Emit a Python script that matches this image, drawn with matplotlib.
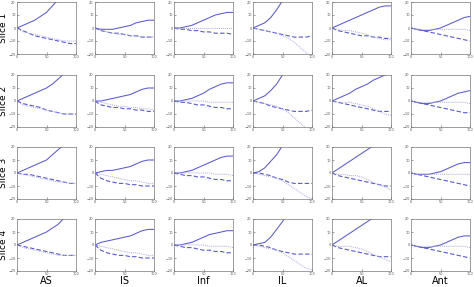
import matplotlib
matplotlib.use('Agg')
import matplotlib.pyplot as plt
import numpy as np

regions = ['AS', 'IS', 'Inf', 'IL', 'AL', 'Ant']
slices = ['Slice 1', 'Slice 2', 'Slice 3', 'Slice 4']
x = [0, 10, 20, 30, 40, 50, 60, 70, 80, 90, 100]

# each list: one curve per region (AS, IS, Inf, IL, AL, Ant)
slice1_solid = [
    [0, 2, 4, 6, 9, 12, 17, 22, 28, 34, 40],
    [0, -1, -1, -1, 0, 1, 2, 4, 5, 6, 6],
    [0, 0, 1, 2, 4, 6, 8, 10, 11, 12, 12],
    [0, 2, 4, 8, 14, 21, 28, 35, 42, 49, 56],
    [0, 2, 4, 6, 8, 10, 12, 14, 16, 17, 17],
    [0, -1, -2, -2, -1, 0, 2, 4, 6, 8, 9],
]
slice1_dashed = [
    [0, -2, -4, -6, -7, -8, -9, -10, -11, -12, -12],
    [0, -2, -3, -4, -4, -5, -6, -6, -7, -7, -7],
    [0, -1, -1, -2, -2, -3, -3, -4, -4, -4, -5],
    [0, -1, -2, -3, -4, -5, -6, -7, -7, -7, -6],
    [0, -2, -3, -4, -5, -6, -6, -7, -7, -8, -8],
    [0, -1, -2, -3, -4, -5, -6, -7, -8, -9, -10],
]
slice1_dotted = [
    [0, -3, -4, -5, -6, -7, -8, -9, -10, -10, -10],
    [0, -2, -3, -4, -5, -5, -6, -6, -7, -7, -7],
    [0, 0, 0, 0, 0, 0, 0, 0, 0, 0, 0],
    [0, -1, -2, -3, -4, -6, -8, -11, -15, -19, -22],
    [0, -1, -2, -2, -3, -4, -5, -7, -8, -9, -9],
    [0, -1, -1, -1, -1, -1, -1, -1, -1, -1, -2],
]

slice2_solid = [
    [0, 2, 4, 6, 8, 10, 13, 17, 21, 25, 29],
    [0, 0, 1, 2, 3, 4, 5, 7, 9, 10, 10],
    [0, 0, 1, 2, 4, 6, 9, 11, 13, 14, 14],
    [0, 2, 4, 8, 13, 20, 27, 34, 41, 48, 55],
    [0, 2, 4, 6, 9, 11, 13, 16, 18, 20, 22],
    [0, -1, -2, -2, -1, 0, 2, 4, 6, 7, 8],
]
slice2_dashed = [
    [0, -2, -3, -4, -5, -7, -8, -9, -10, -10, -10],
    [0, -3, -4, -5, -5, -6, -6, -7, -7, -8, -8],
    [0, -1, -1, -2, -3, -3, -4, -5, -5, -6, -6],
    [0, -1, -2, -4, -5, -6, -7, -8, -8, -8, -7],
    [0, -1, -2, -3, -4, -5, -6, -7, -8, -8, -8],
    [0, -1, -2, -3, -4, -5, -6, -7, -8, -9, -9],
]
slice2_dotted = [
    [0, -3, -4, -5, -6, -7, -8, -9, -10, -10, -10],
    [0, -1, -2, -3, -4, -4, -5, -5, -6, -6, -7],
    [0, 0, 0, 0, 0, 0, -1, -1, -1, -1, -1],
    [0, -1, -2, -3, -4, -6, -9, -13, -17, -21, -25],
    [0, -1, -1, -1, -2, -3, -4, -6, -8, -10, -11],
    [0, -1, -1, -1, -1, -1, -1, -1, -1, -1, -2],
]

slice3_solid = [
    [0, 2, 4, 6, 8, 10, 14, 18, 22, 26, 30],
    [0, 1, 2, 2, 3, 4, 5, 7, 9, 10, 10],
    [0, 0, 1, 2, 4, 6, 8, 10, 12, 13, 13],
    [0, 1, 4, 9, 14, 21, 28, 35, 42, 49, 56],
    [0, 3, 6, 9, 12, 15, 18, 21, 24, 27, 30],
    [0, -1, -1, -1, 0, 1, 3, 5, 7, 8, 8],
]
slice3_dashed = [
    [0, -1, -1, -2, -3, -4, -5, -6, -7, -8, -8],
    [0, -4, -6, -7, -8, -8, -9, -9, -10, -10, -10],
    [0, -1, -2, -2, -3, -3, -4, -5, -5, -6, -6],
    [0, 0, -1, -2, -4, -5, -7, -8, -8, -8, -8],
    [0, -2, -3, -4, -5, -6, -7, -8, -9, -10, -10],
    [0, -1, -2, -3, -4, -5, -6, -7, -8, -9, -10],
]
slice3_dotted = [
    [0, -1, -2, -3, -4, -5, -6, -7, -7, -8, -8],
    [0, -1, -2, -3, -4, -5, -6, -6, -7, -8, -8],
    [0, 0, 0, 0, 0, 0, 0, -1, -1, -1, -2],
    [0, -1, -2, -3, -4, -6, -9, -12, -15, -18, -20],
    [0, -1, -1, -2, -2, -3, -5, -7, -9, -11, -13],
    [0, -1, -1, -1, -1, -1, -1, -1, -1, -1, -1],
]

slice4_solid = [
    [0, 2, 4, 6, 8, 10, 13, 16, 21, 26, 31],
    [0, 2, 3, 4, 5, 6, 7, 9, 11, 12, 12],
    [0, 0, 1, 2, 4, 6, 8, 9, 10, 11, 11],
    [0, 1, 2, 6, 12, 18, 25, 32, 39, 46, 53],
    [0, 3, 6, 9, 12, 15, 18, 21, 24, 27, 30],
    [0, -1, -2, -2, -1, 0, 2, 4, 6, 7, 7],
]
slice4_dashed = [
    [0, -1, -2, -3, -4, -5, -6, -7, -8, -8, -8],
    [0, -4, -6, -7, -8, -8, -9, -9, -10, -10, -10],
    [0, -1, -2, -2, -3, -4, -4, -5, -5, -6, -6],
    [0, 0, -1, -2, -4, -5, -6, -7, -7, -7, -7],
    [0, -2, -3, -4, -5, -6, -7, -8, -9, -9, -9],
    [0, -1, -2, -3, -4, -5, -6, -7, -8, -9, -10],
]
slice4_dotted = [
    [0, -2, -3, -4, -5, -6, -7, -8, -8, -8, -8],
    [0, -1, -2, -3, -4, -5, -6, -6, -7, -8, -8],
    [0, 0, 0, 0, 0, 0, -1, -1, -1, -1, -2],
    [0, -1, -2, -3, -4, -6, -9, -12, -15, -18, -19],
    [0, -1, -1, -1, -2, -3, -5, -7, -9, -11, -13],
    [0, -1, -1, -1, -1, -1, -1, -1, -1, -1, -2],
]

solids = [slice1_solid, slice2_solid, slice3_solid, slice4_solid]
dashes = [slice1_dashed, slice2_dashed, slice3_dashed, slice4_dashed]
dots = [slice1_dotted, slice2_dotted, slice3_dotted, slice4_dotted]

W, H = 474, 287
fig = plt.figure(figsize=(4.74, 2.87), dpi=100)

col_left = [17, 95, 174, 253, 332, 411]
row_top = [2, 75, 147, 219]
aw, ah = 59, 52

line_col = '#5a5ac8'
dot_col = '#ababe0'

for r in range(4):
    for c in range(6):
        ax = fig.add_axes([col_left[c] / W, 1 - (row_top[r] + ah) / H, aw / W, ah / H])
        ax.plot(x, solids[r][c], color=line_col, lw=0.75)
        ax.plot(x, dashes[r][c], color=line_col, lw=0.8, ls=(0, (4, 2)))
        ax.plot(x, dots[r][c], color=dot_col, lw=0.7, ls=(0, (1, 1)))
        ax.set_xlim(0, 100)
        ax.set_ylim(-20, 20)
        ax.set_xticks([0, 50, 100])
        ax.set_yticks([-20, -10, 0, 10, 20])
        ax.tick_params(direction='in', length=1.5, width=0.4, labelsize=2.5,
                       pad=1, colors='#555555')
        for s in ax.spines.values():
            s.set_linewidth(0.5)
            s.set_color('#777777')
        if r == 3:
            fig.text((col_left[c] + aw / 2) / W, 1 - 281 / H, regions[c],
                     ha='center', va='center', fontsize=7)
        if c == 0:
            fig.text(4 / W, 1 - (row_top[r] + ah / 2) / H, slices[r],
                     rotation=90, ha='center', va='center', fontsize=6.5)

fig.savefig('out.png', dpi=100)
